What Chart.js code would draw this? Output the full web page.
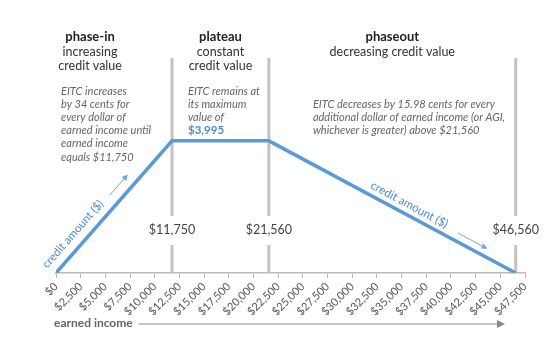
<!DOCTYPE html>
<html>
<head>
<meta charset="utf-8">
<script src="https://cdn.jsdelivr.net/npm/chart.js@4.4.1/dist/chart.umd.min.js"></script>
<style>
  html, body { margin: 0; padding: 0; background: #fff; }
  canvas { display: block; }
</style>
</head>
<body>
<canvas id="eitcChart" width="547" height="353"></canvas>
<script>
// earned income breakpoints and the credit at each one
var incomePoints = [0, 11750, 21560, 46560];
var creditValues = [0, 3995, 3995, 0];

// x axis runs $0 .. $47,500 in $2,500 steps
var xMin = 0;
var xMax = 47500;
var xStep = 2500;

var thresholds = [11750, 21560, 46560];
var thresholdLabels = ['$11,750', '$21,560', '$46,560'];

var phaseTitles = ['phase-in', 'plateau', 'phaseout'];
var phaseSubtitles = [['increasing', 'credit value'], ['constant', 'credit value'], ['decreasing credit value']];
var phaseNotes = [
  ['EITC increases', 'by 34 cents for', 'every dollar of', 'earned income until', 'earned income', 'equals $11,750'],
  ['EITC remains at', 'its maximum', 'value of', '$3,995'],
  ['EITC decreases by 15.98 cents for every', 'additional dollar of earned income (or AGI,', 'whichever is greater) above $21,560']
];
var lineLabel = 'credit amount ($)';
var axisLabel = 'earned income';

var FONT = 'Lato, "Open Sans", sans-serif';
var LINE_BLUE = '#5b9bd5';
var TEXT_BLUE = '#4a8ad0';

function arrow(ctx, x1, y1, x2, y2, color, head) {
  var a = Math.atan2(y2 - y1, x2 - x1);
  ctx.save();
  ctx.strokeStyle = color;
  ctx.fillStyle = color;
  ctx.lineWidth = 1;
  ctx.beginPath();
  ctx.moveTo(x1, y1);
  ctx.lineTo(x2 - Math.cos(a) * head, y2 - Math.sin(a) * head);
  ctx.stroke();
  ctx.beginPath();
  ctx.moveTo(x2, y2);
  ctx.lineTo(x2 - Math.cos(a) * head + Math.sin(a) * head * 0.5, y2 - Math.sin(a) * head - Math.cos(a) * head * 0.5);
  ctx.lineTo(x2 - Math.cos(a) * head - Math.sin(a) * head * 0.5, y2 - Math.sin(a) * head + Math.cos(a) * head * 0.5);
  ctx.closePath();
  ctx.fill();
  ctx.restore();
}

// a point along segment i of the credit line, shifted off it by "off" px
function alongLine(chart, i, frac, off) {
  var xs = chart.scales.x, ys = chart.scales.y;
  var x1 = xs.getPixelForValue(incomePoints[i]), y1 = ys.getPixelForValue(creditValues[i]);
  var x2 = xs.getPixelForValue(incomePoints[i + 1]), y2 = ys.getPixelForValue(creditValues[i + 1]);
  var len = Math.hypot(x2 - x1, y2 - y1);
  var ux = (x2 - x1) / len, uy = (y2 - y1) / len;
  // normal pointing up
  var nx = uy, ny = -ux;
  if (ny > 0) { nx = -nx; ny = -ny; }
  return { x: x1 + ux * len * frac + nx * off, y: y1 + uy * len * frac + ny * off, angle: Math.atan2(uy, ux) };
}

var thresholdPlugin = {
  id: 'thresholds',
  beforeDatasetsDraw: function(chart) {
    var ctx = chart.ctx, area = chart.chartArea, xs = chart.scales.x;
    var labelY = area.bottom - 43;
    ctx.save();
    ctx.strokeStyle = '#c2c2c2';
    ctx.lineWidth = 3;
    thresholds.forEach(function(t) {
      var x = xs.getPixelForValue(t);
      ctx.beginPath();
      ctx.moveTo(x, area.top);
      ctx.lineTo(x, labelY - 14);
      ctx.moveTo(x, labelY + 15);
      ctx.lineTo(x, area.bottom);
      ctx.stroke();
    });
    ctx.restore();
  },
  afterDraw: function(chart) {
    var ctx = chart.ctx, area = chart.chartArea, xs = chart.scales.x;
    var labelY = area.bottom - 43;
    ctx.save();
    ctx.textBaseline = 'middle';

    // threshold amounts
    ctx.font = '12.5px ' + FONT;
    ctx.fillStyle = '#444';
    ctx.textAlign = 'center';
    thresholds.forEach(function(t, i) {
      ctx.fillText(thresholdLabels[i], xs.getPixelForValue(t), labelY);
    });

    // phase headers
    var centres = [
      xs.getPixelForValue(3450),
      (xs.getPixelForValue(thresholds[0]) + xs.getPixelForValue(thresholds[1])) / 2,
      (xs.getPixelForValue(thresholds[1]) + xs.getPixelForValue(thresholds[2])) / 2
    ];
    phaseTitles.forEach(function(title, i) {
      ctx.fillStyle = '#222';
      ctx.font = 'bold 13px ' + FONT;
      ctx.fillText(title, centres[i], 37);
      ctx.fillStyle = '#333';
      ctx.font = '12.5px ' + FONT;
      phaseSubtitles[i].forEach(function(s, j) {
        ctx.fillText(s, centres[i], 52 + j * 14);
      });
    });

    // notes
    var noteX = [61, xs.getPixelForValue(thresholds[0]) + 16, xs.getPixelForValue(thresholds[1]) + 44];
    var noteY = [91, 91, 104];
    ctx.textAlign = 'left';
    phaseNotes.forEach(function(lines, i) {
      lines.forEach(function(line, j) {
        if (line === '$3,995') {
          ctx.font = 'bold 11.5px ' + FONT;
          ctx.fillStyle = TEXT_BLUE;
        } else {
          ctx.font = 'italic 11px ' + FONT;
          ctx.fillStyle = '#666';
        }
        ctx.fillText(line, noteX[i], noteY[i] + j * 13.2);
      });
    });

    // labels along the credit line
    ctx.font = '11.5px ' + FONT;
    ctx.fillStyle = TEXT_BLUE;
    ctx.textAlign = 'center';
    [[0, 0.23, 13], [2, 0.55, 10]].forEach(function(p) {
      var pt = alongLine(chart, p[0], p[1], p[2]);
      ctx.save();
      ctx.translate(pt.x, pt.y);
      ctx.rotate(pt.angle);
      ctx.fillText(lineLabel, 0, 0);
      ctx.restore();
    });
    [[0, 0.535, 0.69, 11], [2, 0.75, 0.87, 8]].forEach(function(p) {
      var a = alongLine(chart, p[0], p[1], p[3]);
      var b = alongLine(chart, p[0], p[2], p[3]);
      arrow(ctx, a.x, a.y, b.x, b.y, '#6fa8dc', 6);
    });

    // axis caption with arrow
    ctx.font = 'bold 12px ' + FONT;
    ctx.fillStyle = '#666';
    ctx.textAlign = 'left';
    ctx.fillText(axisLabel, 54, 323);
    var w = ctx.measureText(axisLabel).width;
    arrow(ctx, 54 + w + 6, 324, 505, 324, '#888', 8);
    ctx.restore();
  }
};

new Chart(document.getElementById('eitcChart'), {
  type: 'line',
  data: {
    datasets: [{
      data: incomePoints.map(function(x, i) { return { x: x, y: creditValues[i] }; }),
      borderColor: LINE_BLUE,
      borderWidth: 3.5,
      pointRadius: 0,
      tension: 0,
      fill: false
    }]
  },
  options: {
    responsive: false,
    animation: false,
    devicePixelRatio: 1,
    layout: { padding: { left: 56, right: 22, top: 58, bottom: 0 } },
    plugins: { legend: { display: false }, tooltip: { enabled: false } },
    scales: {
      x: {
        type: 'linear',
        min: xMin,
        max: xMax,
        afterFit: function(s) { s.height = 80; },
        ticks: {
          stepSize: xStep,
          autoSkip: false,
          minRotation: 45,
          maxRotation: 45,
          padding: 2,
          color: '#555',
          font: { family: FONT, size: 11 },
          callback: function(v) { return '$' + v.toLocaleString('en-US'); }
        },
        grid: { drawOnChartArea: false, drawTicks: true, tickLength: 5, color: '#bbb' },
        border: { color: '#bbb', width: 1.5 }
      },
      y: { display: false, min: 0, max: 6500 }
    }
  },
  plugins: [thresholdPlugin]
});
</script>
</body>
</html>
